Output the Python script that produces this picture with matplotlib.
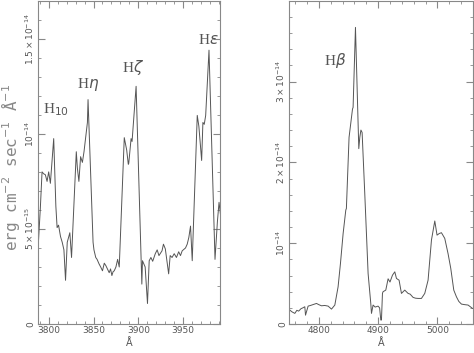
import numpy as np
import matplotlib.pyplot as plt
from matplotlib.ticker import MultipleLocator, FixedLocator

# left panel: wavelength (A) and flux (1e-15 erg/cm2/s/A)
wl_blue = [3787.0, 3790.7, 3792.6, 3794.4, 3796.3, 3798.2, 3800.0, 3801.9, 3805.6,
           3808.0, 3809.4, 3811.0, 3813.2, 3815.1, 3817.0, 3818.8, 3820.7, 3823.6,
           3825.5, 3830.8, 3832.0, 3833.7, 3835.6, 3837.6, 3839.4, 3843.2, 3843.9,
           3849.5, 3850.5, 3852.5, 3854.0, 3856.2, 3858.0, 3860.0, 3862.0, 3863.8,
           3865.5, 3867.5, 3869.0, 3870.5, 3871.8, 3873.1, 3875.0, 3876.9, 3878.7,
           3884.3, 3887.0, 3888.8, 3889.3, 3891.9, 3893.0, 3897.5, 3903.9, 3904.6,
           3907.6, 3910.2, 3912.1, 3914.0, 3916.0, 3918.9, 3921.0, 3923.0, 3926.4,
           3928.0, 3930.1, 3933.8, 3935.5, 3937.6, 3940.0, 3942.5, 3945.0, 3947.0,
           3948.9, 3952.6, 3954.5, 3956.3, 3958.2, 3960.1, 3965.7, 3967.5, 3970.6,
           3972.0, 3973.5, 3975.1, 3978.8, 3985.5, 3988.2, 3990.0, 3992.0]
fx_blue = [3.0, 6.1, 8.0, 7.9, 7.85, 7.5, 8.0, 7.4, 9.75,
           6.2, 5.07, 5.2, 4.6, 4.3, 3.9, 2.3, 4.3, 4.8,
           3.5, 9.06, 8.2, 7.5, 8.8, 8.5, 9.06, 10.6, 11.8,
           4.3, 3.9, 3.5, 3.4, 3.16, 3.0, 2.8, 3.2, 3.07,
           2.9, 2.7, 2.9, 2.55, 2.75, 2.8, 3.0, 3.4, 3.0,
           9.8, 9.15, 8.4, 8.45, 9.75, 9.6, 12.5, 2.1, 3.33,
           3.0, 1.08, 3.33, 3.5, 3.3, 3.7, 3.9, 3.6, 3.85,
           4.2, 3.95, 2.64, 3.6, 3.5, 3.7, 3.5, 3.8, 3.6,
           3.85, 4.0, 4.2, 4.55, 5.15, 3.33, 10.97, 10.4, 8.6,
           10.6, 10.5, 10.97, 14.4, 3.4, 5.4, 6.4, 5.6]

# right panel: wavelength (A) and flux (1e-14 erg/cm2/s/A)
wl_red = [4751.1, 4755.0, 4759.6, 4763.0, 4766.0, 4770.0, 4773.0, 4776.4, 4777.6,
          4782.0, 4786.0, 4790.0, 4796.1, 4800.0, 4804.5, 4810.0, 4815.7, 4821.4,
          4827.0, 4832.5, 4836.5, 4841.0, 4845.5, 4846.5, 4851.0, 4856.8, 4857.8,
          4861.8, 4867.4, 4869.1, 4871.0, 4873.0, 4877.5, 4883.1, 4887.6, 4888.8,
          4891.5, 4895.0, 4899.9, 4902.5, 4904.5, 4905.6, 4907.3, 4908.3, 4912.9,
          4916.8, 4920.0, 4924.2, 4928.1, 4930.9, 4935.3, 4939.3, 4944.9, 4950.5,
          4954.0, 4958.9, 4963.0, 4967.3, 4973.0, 4978.6, 4984.2, 4989.9, 4995.5,
          4999.3, 5003.0, 5006.7, 5012.3, 5017.9, 5022.4, 5027.5, 5032.0, 5036.0,
          5040.4, 5046.0, 5051.6, 5059.0]
fx_red = [0.173, 0.15, 0.132, 0.17, 0.16, 0.19, 0.2, 0.214, 0.11,
          0.222, 0.23, 0.24, 0.255, 0.24, 0.226, 0.23, 0.222, 0.185,
          0.235, 0.46, 0.75, 1.12, 1.41, 1.43, 2.31, 2.66, 2.68,
          3.67, 2.17, 2.31, 2.4, 2.37, 1.61, 0.626, 0.255, 0.132,
          0.235, 0.21, 0.222, 0.2, 0.05, 0.05, 0.38, 0.40, 0.42,
          0.56, 0.52, 0.605, 0.646, 0.564, 0.543, 0.379, 0.42, 0.379,
          0.37, 0.33, 0.32, 0.317, 0.317, 0.379, 0.543, 1.04, 1.275,
          1.10, 1.12, 1.13, 1.06, 0.87, 0.69, 0.42, 0.337, 0.28,
          0.247, 0.24, 0.235, 0.194]

blue_lines = ['H$_{10}$', r'H$\eta$', r'H$\zeta$', r'H$\varepsilon$']
blue_line_pos = [(3808.7, 11.25e-15), (3843.6, 12.6e-15), (3894.0, 13.5e-15), (3977.6, 14.95e-15)]

line_col = '#555555'
txt_col = '#555555'
ax_col = '#888888'

fig = plt.figure(figsize=(4.74, 3.53), dpi=100)
ax1 = fig.add_axes([0.080, 0.082, 0.384, 0.916])
ax2 = fig.add_axes([0.610, 0.082, 0.388, 0.916])

ax1.plot(wl_blue, np.array(fx_blue) * 1e-15, color=line_col, lw=0.7)
ax2.plot(wl_red, np.array(fx_red) * 1e-14, color=line_col, lw=0.7)

ax1.set_xlim(3788, 3991)
ax1.set_ylim(0, 1.7e-14)
ax2.set_xlim(4750, 5060)
ax2.set_ylim(0, 4e-14)

ax1.xaxis.set_major_locator(FixedLocator([3800, 3850, 3900, 3950]))
ax1.xaxis.set_minor_locator(MultipleLocator(10))
ax1.yaxis.set_major_locator(FixedLocator([0, 5e-15, 1e-14, 1.5e-14]))
ax1.yaxis.set_minor_locator(MultipleLocator(1e-15))
ax1.set_yticklabels(['0', r'$5\times10^{-15}$', r'$10^{-14}$', r'$1.5\times10^{-14}$'])

ax2.xaxis.set_major_locator(FixedLocator([4800, 4900, 5000]))
ax2.xaxis.set_minor_locator(MultipleLocator(20))
ax2.yaxis.set_major_locator(FixedLocator([0, 1e-14, 2e-14, 3e-14]))
ax2.yaxis.set_minor_locator(MultipleLocator(2e-15))
ax2.set_yticklabels(['0', r'$10^{-14}$', r'$2\times10^{-14}$', r'$3\times10^{-14}$'])

for ax in (ax1, ax2):
    ax.tick_params(which='both', direction='in', top=True, right=True,
                   colors=ax_col, labelcolor=txt_col, labelsize=6.5)
    ax.tick_params(which='major', length=5, pad=1.5)
    ax.tick_params(which='minor', length=2.5)
    for lab in ax.get_yticklabels():
        lab.set_rotation(90)
        lab.set_va('center')
    for s in ax.spines.values():
        s.set_color(ax_col)
        s.set_linewidth(0.8)
    ax.set_xlabel('Å', color=txt_col, fontsize=7, labelpad=2)

for name, (x, y) in zip(blue_lines, blue_line_pos):
    ax1.text(x, y, name, ha='center', va='center', color=txt_col,
             fontsize=11, family='Liberation Serif')
ax2.text(4827, 3.26e-14, r'H$\beta$', ha='center', va='center', color=txt_col,
         fontsize=11, family='Liberation Serif')

fig.text(0.022, 0.527, 'erg cm$^{-2}$ sec$^{-1}$ Å$^{-1}$', rotation=90,
         ha='center', va='center', color='#888888', fontsize=11.5,
         family='DejaVu Sans Mono')

fig.savefig('out.png', dpi=100)
